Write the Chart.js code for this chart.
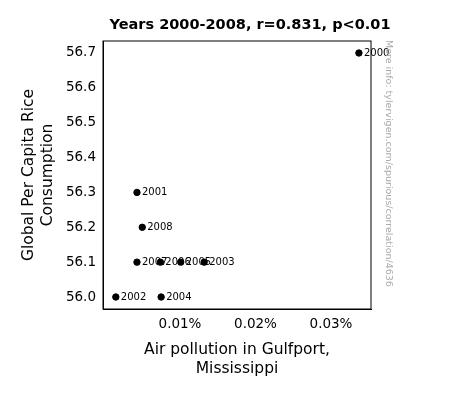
<!DOCTYPE html><html><head><script src="https://cdn.jsdelivr.net/npm/chart.js@4"></script>
<style>body{margin:0;background:#fff}#w{width:474px;height:412px}</style></head><body><div id="w"><canvas id="c"></canvas></div>
<script>
const years=["2000","2001","2002","2003","2004","2005","2006","2007","2008"];
const pollution=[0.0337,0.0043,0.0015,0.0132,0.0075,0.0101,0.0074,0.0043,0.0050];
const rice=[56.7,56.3,56.0,56.1,56.0,56.1,56.1,56.1,56.2];
const xTicks=[0.01,0.02,0.03];
const yTicks=[56.0,56.1,56.2,56.3,56.4,56.5,56.6,56.7];
const pts=years.map((y,i)=>({x:pollution[i],y:rice[i]}));
const labels={id:'lab',afterDatasetsDraw(ch){const c=ch.ctx,m=ch.getDatasetMeta(0),a=ch.chartArea;c.save();
c.strokeStyle='#000';c.lineWidth=1;c.strokeRect(a.left,a.top,a.right-a.left,a.bottom-a.top);
c.font='bold 14.5px "DejaVu Sans"';c.textAlign='center';c.textBaseline='middle';c.fillStyle='#000';c.fillText('Years 2000-2008, r=0.831, p<0.01',250,25);
c.textAlign='left';c.font='10px "DejaVu Sans"';
m.data.forEach((p,i)=>c.fillText(years[i],p.x+5,p.y));
c.translate(388,40);c.rotate(Math.PI/2);c.fillStyle='#aaa';c.font='9.5px "DejaVu Sans"';c.fillText('More info: tylervigen.com/spurious/correlation/4636',0,0);c.restore();}};
new Chart(document.getElementById('c'),{type:'scatter',data:{datasets:[{data:pts,backgroundColor:'#000',borderColor:'#000',pointRadius:3.2}]},
options:{animation:false,responsive:true,maintainAspectRatio:false,layout:{padding:{top:41,right:103,bottom:30,left:0}},
plugins:{legend:{display:false},tooltip:{enabled:false}},
scales:{x:{min:-0.0002,max:0.0353,grid:{display:false,drawTicks:true,tickLength:4,tickColor:'#000'},border:{color:'#000'},afterBuildTicks(a){a.ticks=xTicks.map(v=>({value:v}))},
ticks:{color:'#000',font:{family:'DejaVu Sans',size:13.5},callback:v=>v.toFixed(2)+'%'},
title:{display:true,text:['Air pollution in Gulfport,','Mississippi'],color:'#000',font:{family:'DejaVu Sans',size:15.5},padding:{top:6}},afterFit(a){a.height=73}},
y:{min:55.9656,max:56.7344,grid:{display:false,tickLength:4,tickColor:'#000'},border:{color:'#000'},afterBuildTicks(a){a.ticks=yTicks.map(v=>({value:v}))},
ticks:{color:'#000',font:{family:'DejaVu Sans',size:13.5},callback:v=>v.toFixed(1)},
title:{display:true,text:['Global Per Capita Rice','Consumption'],color:'#000',font:{family:'DejaVu Sans',size:15.5},padding:{top:20,bottom:8}},
afterFit(a){a.width=103}}}},plugins:[labels]});
</script></body></html>
